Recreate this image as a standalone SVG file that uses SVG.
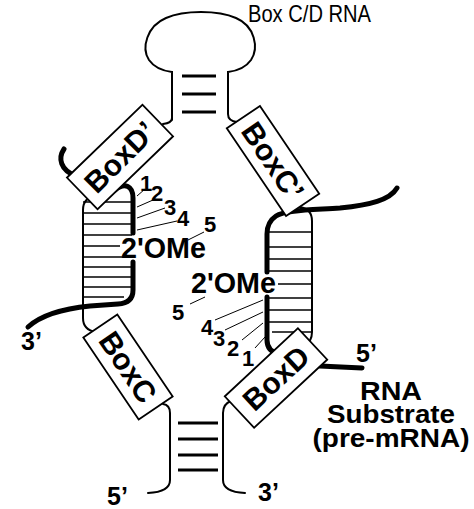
<svg xmlns="http://www.w3.org/2000/svg" width="474" height="509" viewBox="0 0 474 509">
<style>
.thin{fill:none;stroke:#000;stroke-width:2;stroke-linecap:round}
.thick{fill:none;stroke:#000;stroke-width:5;stroke-linecap:round}
.rung{stroke:#000;stroke-width:1.4}
.bar{stroke:#000;stroke-width:3}
.lead{stroke:#000;stroke-width:1}
.box{fill:#fff;stroke:#000;stroke-width:1.8}
.bt{font-family:"Liberation Sans",Arial,sans-serif;font-weight:bold;font-size:30px;text-anchor:middle}
.lbl{font-family:"Liberation Sans",Arial,sans-serif;font-weight:bold}
.num{font-family:"Liberation Sans",Arial,sans-serif;font-weight:bold;font-size:22px}
</style>
<g id="connectors">
<path class="thin" d="M172,118 Q172,123 163,124 M172,120 V72 Q156,70 149,60 C141,48 147,26 166,18 C184,10 218,10 236,18 C255,26 259,48 251,60 Q244,70 228,72 V114 Q228,121 237,122"/>
<line class="bar" x1="182" y1="76" x2="216" y2="76"/>
<line class="bar" x1="182" y1="94" x2="216" y2="94"/>
<line class="bar" x1="182" y1="112" x2="216" y2="112"/>
<path class="thin" d="M97,196 Q83,197 83,210 V318 Q83,330 96,332"/>
<path class="thin" d="M300,207 Q312,209 312,221 V332 Q312,342 304,346"/>
<path class="thin" d="M163,404 Q170,405 170,413 V480 Q170,492 148,493"/>
<path class="thin" d="M231,401 Q223,404 223,413 V480 Q223,492 245,493"/>
<line class="bar" x1="178" y1="423" x2="218" y2="423"/>
<line class="bar" x1="178" y1="439" x2="218" y2="439"/>
<line class="bar" x1="178" y1="455" x2="218" y2="455"/>
<line class="bar" x1="178" y1="470" x2="218" y2="470"/>
<g class="rung">
<line x1="83" y1="202" x2="132" y2="202"/>
<line x1="83" y1="213" x2="132" y2="213"/>
<line x1="83" y1="224" x2="132" y2="224"/>
<line x1="83" y1="235" x2="132" y2="235"/>
<line x1="83" y1="246" x2="120" y2="246"/>
<line x1="83" y1="257" x2="132" y2="257"/>
<line x1="83" y1="267" x2="132" y2="267"/>
<line x1="83" y1="277" x2="132" y2="277"/>
<line x1="83" y1="287" x2="132" y2="287"/>
<line x1="83" y1="297" x2="124" y2="297"/>
</g>
<g class="rung">
<line x1="269" y1="232" x2="311" y2="232"/>
<line x1="269" y1="247" x2="311" y2="247"/>
<line x1="269" y1="259" x2="311" y2="259"/>
<line x1="269" y1="271" x2="311" y2="271"/>
<line x1="278" y1="284" x2="311" y2="284"/>
<line x1="269" y1="298" x2="311" y2="298"/>
<line x1="269" y1="310" x2="311" y2="310"/>
<line x1="269" y1="322" x2="311" y2="322"/>
<line x1="272" y1="332" x2="311" y2="332"/>
</g>
<path class="thick" d="M64,149 C58,158 60,170 76,176"/>
<path class="thick" d="M115,190 C125,182 133,186 133,198 V233"/>
<path class="thick" d="M133,262 V290 Q133,303 118,304 L90,306 C60,309 40,316 28,327"/>
<path class="thick" d="M397,188 C390,200 370,205 340,208 C310,210 285,210 276,216 Q267,222 267,234 V272"/>
<path class="thick" d="M267,297 V340 Q267,352 280,354 L320,366 L362,368"/>
<g class="lead">
<line x1="137" y1="196" x2="145" y2="189"/>
<line x1="137" y1="207" x2="153" y2="200"/>
<line x1="137" y1="218" x2="165" y2="208"/>
<line x1="137" y1="230" x2="177" y2="221"/>
<line x1="188" y1="240" x2="204" y2="232"/>
<line x1="190" y1="304" x2="205" y2="297"/>
<line x1="215" y1="320" x2="263" y2="300"/>
<line x1="225" y1="330" x2="263" y2="312"/>
<line x1="242" y1="340" x2="263" y2="323"/>
<line x1="255" y1="348" x2="265" y2="337"/>
</g>
</g>
<g id="boxDp">
<rect class="box" x="-52.5" y="-22" width="105" height="44" transform="translate(120,157) rotate(-44)"/>
<text class="bt" transform="translate(120,157) rotate(-45)" y="10.5">BoxD’</text>
</g>
<g id="boxCp">
<rect class="box" x="-53" y="-20" width="106" height="40" transform="translate(273,161) rotate(56)"/>
<text class="bt" transform="translate(273,161) rotate(56)" y="10.5">BoxC’</text>
</g>
<g id="boxC">
<rect class="box" x="-49.5" y="-20.5" width="99" height="41" transform="translate(128,367) rotate(56)"/>
<text class="bt" transform="translate(128,367) rotate(56)" y="10.5">BoxC</text>
</g>
<g id="boxD">
<rect class="box" x="-50" y="-21.5" width="100" height="43" transform="translate(276,378) rotate(-43)"/>
<text class="bt" transform="translate(276,378) rotate(-43)" y="10.5">BoxD</text>
</g>
<g id="labels">
<text x="248" y="22" font-family="'Liberation Sans',Arial,sans-serif" font-size="24" textLength="123" lengthAdjust="spacingAndGlyphs">Box C/D RNA</text>
<text class="lbl" x="121" y="258" font-size="29" textLength="85" lengthAdjust="spacingAndGlyphs">2'OMe</text>
<text class="lbl" x="191" y="293" font-size="29" textLength="85" lengthAdjust="spacingAndGlyphs">2'OMe</text>
<text class="num" x="140" y="191">1</text>
<text class="num" x="151" y="201">2</text>
<text class="num" x="164" y="215">3</text>
<text class="num" x="177" y="226">4</text>
<text class="num" x="204" y="232">5</text>
<text class="num" x="172" y="320">5</text>
<text class="num" x="201" y="335">4</text>
<text class="num" x="213" y="346">3</text>
<text class="num" x="227" y="356">2</text>
<text class="num" x="242" y="366">1</text>
<text class="lbl" x="21" y="350" font-size="25">3’</text>
<text class="lbl" x="107" y="505" font-size="25">5’</text>
<text class="lbl" x="258" y="501" font-size="25">3’</text>
<text class="lbl" x="356" y="362" font-size="25">5’</text>
<text class="lbl" font-size="26" text-anchor="middle"><tspan x="391" y="400" textLength="62" lengthAdjust="spacingAndGlyphs">RNA</tspan><tspan x="391" y="423" textLength="128" lengthAdjust="spacingAndGlyphs">Substrate</tspan><tspan x="391" y="447" textLength="157" lengthAdjust="spacingAndGlyphs">(pre-mRNA)</tspan></text>
</g>
</svg>
